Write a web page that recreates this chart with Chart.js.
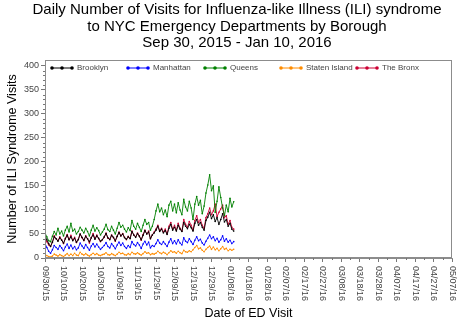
<!DOCTYPE html>
<html>
<head>
<meta charset="utf-8">
<script src="https://cdn.jsdelivr.net/npm/chart.js@4"></script>
<style>
  html, body { margin: 0; padding: 0; background: #fff; }
</style>
</head>
<body>
<canvas id="iliChart" width="474" height="324"></canvas>
<script>
const titleLines = [
    'Daily Number of Visits for Influenza-like Illness (ILI) syndrome',
    'to NYC Emergency Departments by Borough',
    'Sep 30, 2015 - Jan 10, 2016'
];

const boroughs = ['Brooklyn', 'Manhattan', 'Queens', 'Staten Island', 'The Bronx'];
const boroughColors = ['#000000', '#0000ff', '#008000', '#ff8c00', '#cc0033'];

// one value per day, starting 09/30/15 (day 0) to 01/10/16 (day 102)
const brooklyn = [
    46, 38, 30, 24, 33, 44, 40,
    35, 42, 37, 31, 40, 47, 38,
    44, 36, 41, 33, 38, 50, 43,
    37, 45, 40, 34, 42, 48, 39,
    46, 41, 35, 38, 44, 51, 42,
    38, 47, 43, 36, 45, 53, 46,
    50, 42, 39, 44, 40, 55, 48,
    43, 51, 45, 38, 47, 57, 50,
    54, 40, 48, 52, 58, 66, 55,
    60, 52, 57, 49, 62, 70, 58,
    64, 56, 68, 60, 55, 74, 66,
    61, 70, 63, 56, 72, 80, 68,
    74, 64, 58, 78, 85, 95, 82,
    90, 76, 84, 70, 80, 92, 75,
    80, 66, 72, 60, 56
];
const manhattan = [
    30, 22, 14, 10, 17, 26, 22,
    18, 26, 21, 15, 23, 29, 20,
    27, 19, 24, 17, 21, 31, 25,
    20, 28, 22, 16, 25, 30, 23,
    29, 23, 18, 22, 26, 32, 24,
    21, 30, 25, 19, 27, 33, 26,
    31, 24, 20, 26, 22, 34, 28,
    25, 32, 27, 20, 29, 35, 27,
    33, 21, 26, 24, 30, 38, 31,
    28, 34, 29, 24, 33, 40, 30,
    36, 29, 38, 31, 27, 42, 35,
    32, 40, 34, 28, 37, 44, 36,
    39, 31, 27, 35, 41, 48, 40,
    44, 36, 41, 33, 38, 46, 35,
    40, 33, 37, 30, 34
];
const queens = [
    52, 44, 36, 34, 45, 55, 48,
    62, 50, 56, 46, 58, 66, 54,
    72, 56, 60, 50, 55, 64, 58,
    52, 62, 55, 46, 58, 68, 56,
    63, 57, 48, 54, 60, 70, 59,
    55, 66, 58, 50, 62, 74, 64,
    68, 60, 54, 63, 57, 78, 66,
    60, 72, 64, 55, 68, 80, 70,
    74, 58, 66, 80, 98, 112, 96,
    104, 90, 100, 86, 110, 118, 98,
    112, 94, 115, 100, 90, 122, 106,
    98, 118, 104, 80, 112, 128, 110,
    120, 92, 108, 135, 152, 173, 140,
    150, 95, 118, 148, 126, 104, 88,
    110, 96, 124, 106, 117
];
const statenIsland = [
    7, 5, 3, 2, 4, 8, 6,
    4, 7, 5, 3, 6, 9, 5,
    8, 5, 10, 6, 5, 12, 8,
    6, 9, 6, 4, 7, 10, 7,
    9, 6, 5, 7, 8, 11, 7,
    6, 9, 7, 5, 8, 12, 9,
    10, 7, 6, 9, 7, 12, 9,
    8, 11, 8, 6, 9, 13, 10,
    11, 7, 9, 8, 10, 14, 11,
    9, 12, 10, 7, 11, 15, 12,
    13, 10, 14, 11, 9, 16, 13,
    12, 15, 13, 17, 22, 26, 19,
    21, 16, 13, 18, 22, 25, 18,
    23, 17, 20, 15, 19, 24, 18,
    20, 15, 18, 16, 18
];
const theBronx = [
    42, 34, 27, 24, 33, 46, 40,
    36, 44, 38, 30, 41, 49, 38,
    47, 37, 43, 32, 39, 50, 42,
    36, 46, 40, 31, 42, 51, 40,
    48, 40, 34, 38, 43, 52, 41,
    39, 48, 42, 35, 45, 54, 46,
    51, 43, 38, 45, 41, 56, 48,
    44, 52, 46, 37, 49, 58, 50,
    56, 40, 48, 54, 60, 68, 57,
    62, 54, 60, 50, 66, 74, 60,
    68, 58, 72, 62, 56, 80, 70,
    64, 76, 68, 58, 78, 88, 74,
    80, 68, 62, 84, 92, 104, 90,
    98, 112, 86, 95, 102, 110, 84,
    88, 70, 78, 64, 60
];

// x tick labels, one every 10 days from day 0
const xTickLabels = [
    '09/30/15', '10/10/15', '10/20/15', '10/30/15', '11/09/15', '11/19/15',
    '11/29/15', '12/09/15', '12/19/15', '12/29/15', '01/08/16', '01/18/16',
    '01/28/16', '02/07/16', '02/17/16', '02/27/16', '03/08/16', '03/18/16',
    '03/28/16', '04/07/16', '04/17/16', '04/27/16', '05/07/16'
];
const yTickValues = [0, 50, 100, 150, 200, 250, 300, 350, 400];

const seriesValues = [brooklyn, manhattan, queens, statenIsland, theBronx];
const FONT = '"Liberation Sans", Arial, sans-serif';

// title, frame, minor ticks, clockwise x labels and the inside legend
const decorations = {
    id: 'decorations',
    afterDraw(chart) {
        const ctx = chart.ctx;
        const area = chart.chartArea;
        const xs = chart.scales.x;
        const ys = chart.scales.y;
        ctx.save();

        // title centred on the whole canvas
        ctx.fillStyle = '#000';
        ctx.font = '15px ' + FONT;
        ctx.textAlign = 'center';
        ctx.textBaseline = 'middle';
        titleLines.forEach((line, i) => {
            ctx.fillText(line, chart.width / 2, 10 + i * 16.5);
        });

        ctx.strokeStyle = '#8c8c8c';
        ctx.lineWidth = 1;
        ctx.strokeRect(area.left + 0.5, area.top + 0.5, area.right - area.left - 1, area.bottom - area.top - 1);

        // minor ticks
        ctx.strokeStyle = '#777';
        ctx.beginPath();
        for (let v = 10; v <= 400; v += 10) {
            if (v % 50 === 0) continue;
            const py = Math.round(ys.getPixelForValue(v)) + 0.5;
            ctx.moveTo(area.left - 2, py);
            ctx.lineTo(area.left, py);
        }
        for (let d = 5; d < 220; d += 10) {
            const px = Math.round(xs.getPixelForValue(d)) + 0.5;
            ctx.moveTo(px, area.bottom);
            ctx.lineTo(px, area.bottom + 2);
        }
        ctx.stroke();

        // x tick labels, read top to bottom
        ctx.fillStyle = '#444';
        ctx.font = '9px ' + FONT;
        ctx.textAlign = 'left';
        ctx.textBaseline = 'middle';
        xTickLabels.forEach((lab, i) => {
            const px = xs.getPixelForValue(i * 10);
            ctx.save();
            ctx.translate(px, area.bottom + 8);
            ctx.rotate(Math.PI / 2);
            ctx.fillText(lab, 0, 0);
            ctx.restore();
        });

        // legend inside the plot
        const legendX = [52, 128, 205, 281, 357];
        const ly = area.top + 8;
        boroughs.forEach((name, i) => {
            const x0 = legendX[i];
            ctx.strokeStyle = boroughColors[i];
            ctx.fillStyle = boroughColors[i];
            ctx.lineWidth = 1;
            ctx.beginPath();
            ctx.moveTo(x0, ly);
            ctx.lineTo(x0 + 20, ly);
            ctx.stroke();
            [0, 10, 20].forEach(dx => {
                ctx.beginPath();
                ctx.arc(x0 + dx, ly, 1.8, 0, Math.PI * 2);
                ctx.fill();
            });
            ctx.fillStyle = '#444';
            ctx.font = '8px ' + FONT;
            ctx.textAlign = 'left';
            ctx.fillText(name, x0 + 25, ly);
        });
        ctx.restore();
    }
};

new Chart(document.getElementById('iliChart'), {
    type: 'line',
    data: {
        datasets: boroughs.map((name, i) => ({
            label: name,
            data: seriesValues[i].map((v, d) => ({ x: d, y: v })),
            borderColor: boroughColors[i],
            backgroundColor: boroughColors[i],
            borderWidth: 0.9,
            pointRadius: 0.8,
            pointBorderWidth: 0,
            tension: 0
        }))
    },
    options: {
        responsive: false,
        animation: false,
        devicePixelRatio: 1,
        layout: { padding: { left: 0, right: 22, top: 60, bottom: 0 } },
        font: { family: FONT },
        plugins: {
            legend: { display: false },
            tooltip: { enabled: false },
            title: { display: false }
        },
        scales: {
            x: {
                type: 'linear',
                min: 0,
                max: 220,
                afterBuildTicks: scale => { scale.ticks = xTickLabels.map((l, i) => ({ value: i * 10 })); },
                afterFit: scale => { scale.height = 66; },
                grid: { drawOnChartArea: false, tickLength: 4, color: '#777' },
                border: { color: '#8c8c8c' },
                ticks: { display: false },
                title: {
                    display: true,
                    text: 'Date of ED Visit',
                    color: '#000',
                    font: { family: FONT, size: 12.5 },
                    padding: { top: 0, bottom: 3 }
                }
            },
            y: {
                min: 0,
                max: 412,
                afterBuildTicks: scale => { scale.ticks = yTickValues.map(v => ({ value: v })); },
                afterFit: scale => { scale.width = 45; },
                grid: { drawOnChartArea: false, tickLength: 4, color: '#777' },
                border: { color: '#8c8c8c' },
                ticks: {
                    color: '#444',
                    font: { family: FONT, size: 9 },
                    padding: 2
                },
                title: {
                    display: true,
                    text: 'Number of ILI Syndrome Visits',
                    color: '#000',
                    font: { family: FONT, size: 12.5 },
                    padding: { top: 5, bottom: 0 }
                }
            }
        }
    },
    plugins: [decorations]
});
</script>
</body>
</html>
